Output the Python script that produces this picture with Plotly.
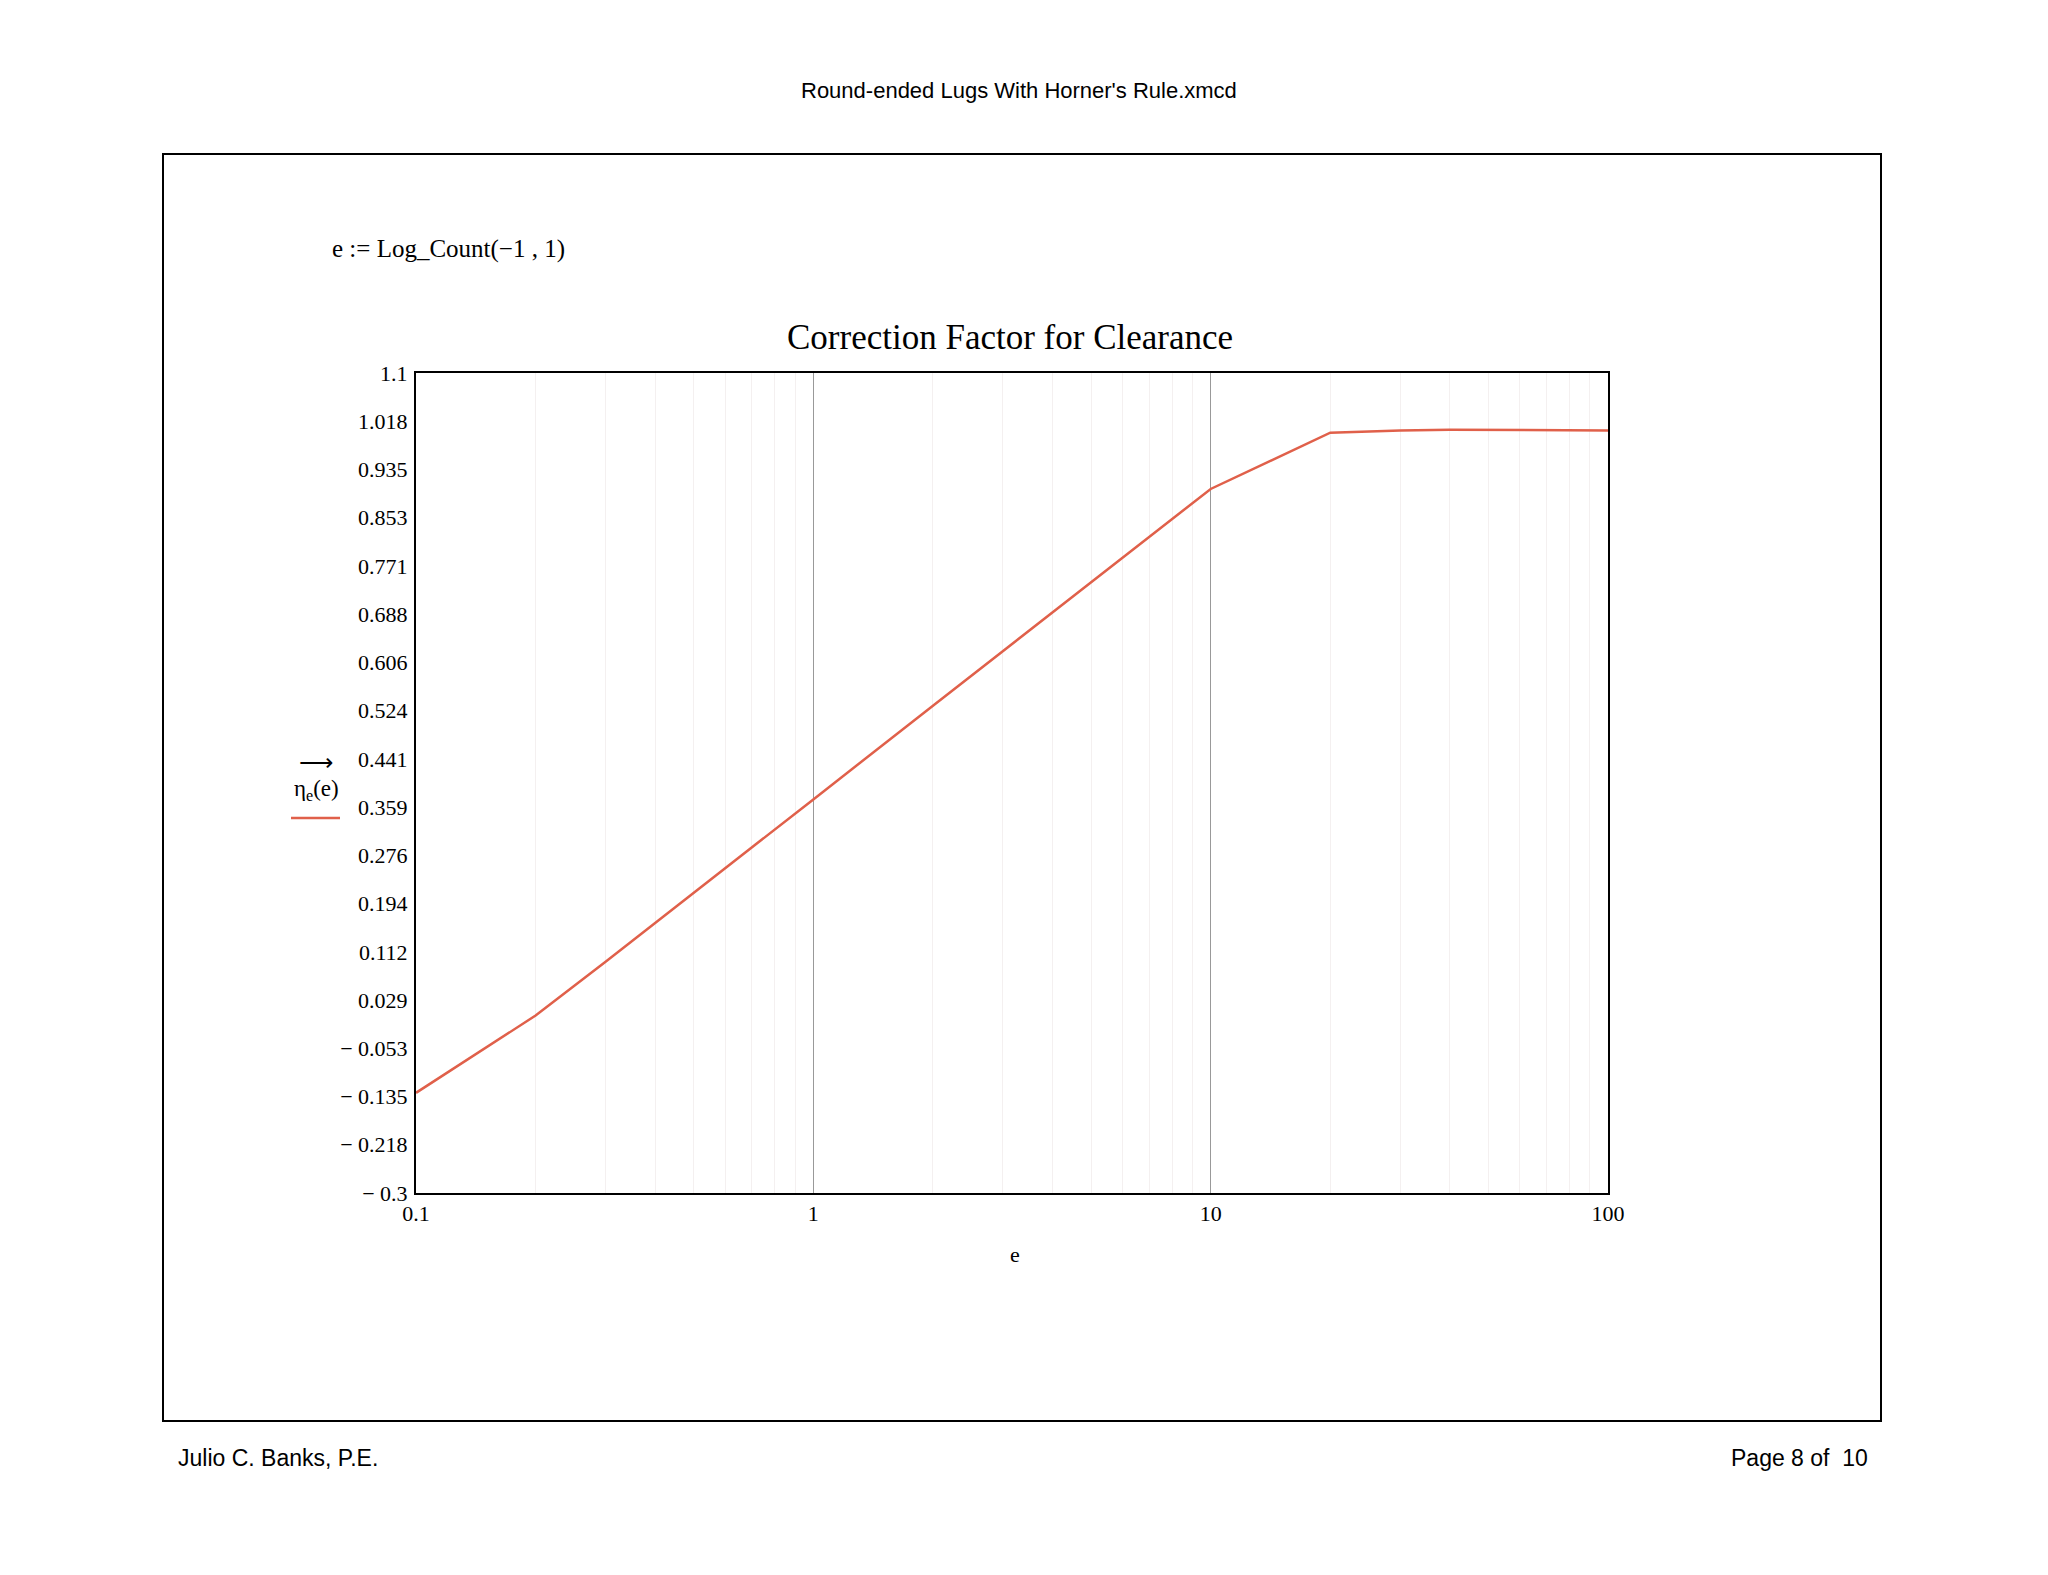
import plotly.graph_objects as go

e_vals = [0.1,0.2,0.3,0.4,0.5,0.6,0.7,0.8,0.9,1,2,3,4,5,6,7,8,9,10,20,30,40,50,60,70,80,90,100]
eta_vals = [-0.129,0.003,0.095,0.161,0.212,0.254,0.290,0.321,0.348,0.372,0.532,0.625,0.691,0.743,0.784,0.820,0.851,0.877,0.902,0.998,1.002,1.003,1.003,1.003,1.003,1.003,1.002,1.002]
y_labels = ["− 0.3","− 0.218","− 0.135","− 0.053","0.029","0.112","0.194","0.276","0.359","0.441","0.524","0.606","0.688","0.771","0.853","0.935","1.018","1.1"]
y_ticks = [-0.3 + 1.4*i/17 for i in range(18)]
x_ticks = [0.1,1,10,100]
x_labels = ["0.1","1","10","100"]

L,R,T,B = 408,1600,365,1185
W,H = 2048,1575
def xp(px): return (px-L)/(R-L)
def yp(py): return (B-py)/(B-T)

fig = go.Figure(go.Scatter(x=e_vals,y=eta_vals,mode="lines",line=dict(color="#e0604a",width=2.5),showlegend=False))
serif = "Liberation Serif"
fig.update_layout(width=W,height=H,paper_bgcolor="white",plot_bgcolor="white",
    margin=dict(l=L,r=W-R,t=T,b=H-B,autoexpand=False),
    font=dict(family=serif,size=22,color="black"),
    xaxis=dict(type="log",range=[-1,2],tickvals=x_ticks,ticktext=x_labels,showgrid=True,gridcolor="#999",gridwidth=1,
               minor=dict(showgrid=True,gridcolor="#f4f0f0",tickvals=[v*10**k for k in (-1,0,1) for v in range(2,10)]),
               showline=True,linecolor="black",linewidth=2,mirror=True,ticks="",zeroline=False),
    yaxis=dict(range=[-0.3,1.1],tickvals=y_ticks,ticktext=y_labels,showgrid=False,showline=True,linecolor="black",
               linewidth=2,mirror=True,ticks="",zeroline=False,ticklabelstandoff=2),
)
ann=[
 dict(x=xp(1011),y=yp(83),text="Round-ended Lugs With Horner's Rule.xmcd",font=dict(family="Liberation Sans",size=22)),
 dict(x=xp(1002),y=yp(329),text="Correction Factor for Clearance",font=dict(family=serif,size=35)),
 dict(x=xp(322),y=yp(241),text="e := Log_Count(−1 , 1)",xanchor="left",font=dict(family=serif,size=25)),
 dict(x=xp(1007),y=yp(1246),text="e",font=dict(family=serif,size=22)),
 dict(x=xp(308),y=yp(755),text="⟶",font=dict(family=serif,size=24)),
 dict(x=xp(308),y=yp(782),text="η<sub>e</sub>(e)",font=dict(family=serif,size=23)),
 dict(x=xp(168),y=yp(1450),text="Julio C. Banks, P.E.",xanchor="left",font=dict(family="Liberation Sans",size=23)),
 dict(x=xp(1862),y=yp(1450),text="Page 8 of  10",xanchor="right",font=dict(family="Liberation Sans",size=23)),
]
for a in ann:
    a.update(xref="paper",yref="paper",showarrow=False,yanchor="middle")
    a.setdefault("xanchor","center")
fig.update_layout(annotations=ann)
fig.add_shape(type="rect",xref="paper",yref="paper",x0=xp(155),x1=xp(1873),y0=yp(146),y1=yp(1413),line=dict(color="black",width=2))
fig.add_shape(type="line",xref="paper",yref="paper",x0=xp(283),x1=xp(332),y0=yp(810),y1=yp(810),line=dict(color="#e0604a",width=2.5))
fig.write_html("out.html")
